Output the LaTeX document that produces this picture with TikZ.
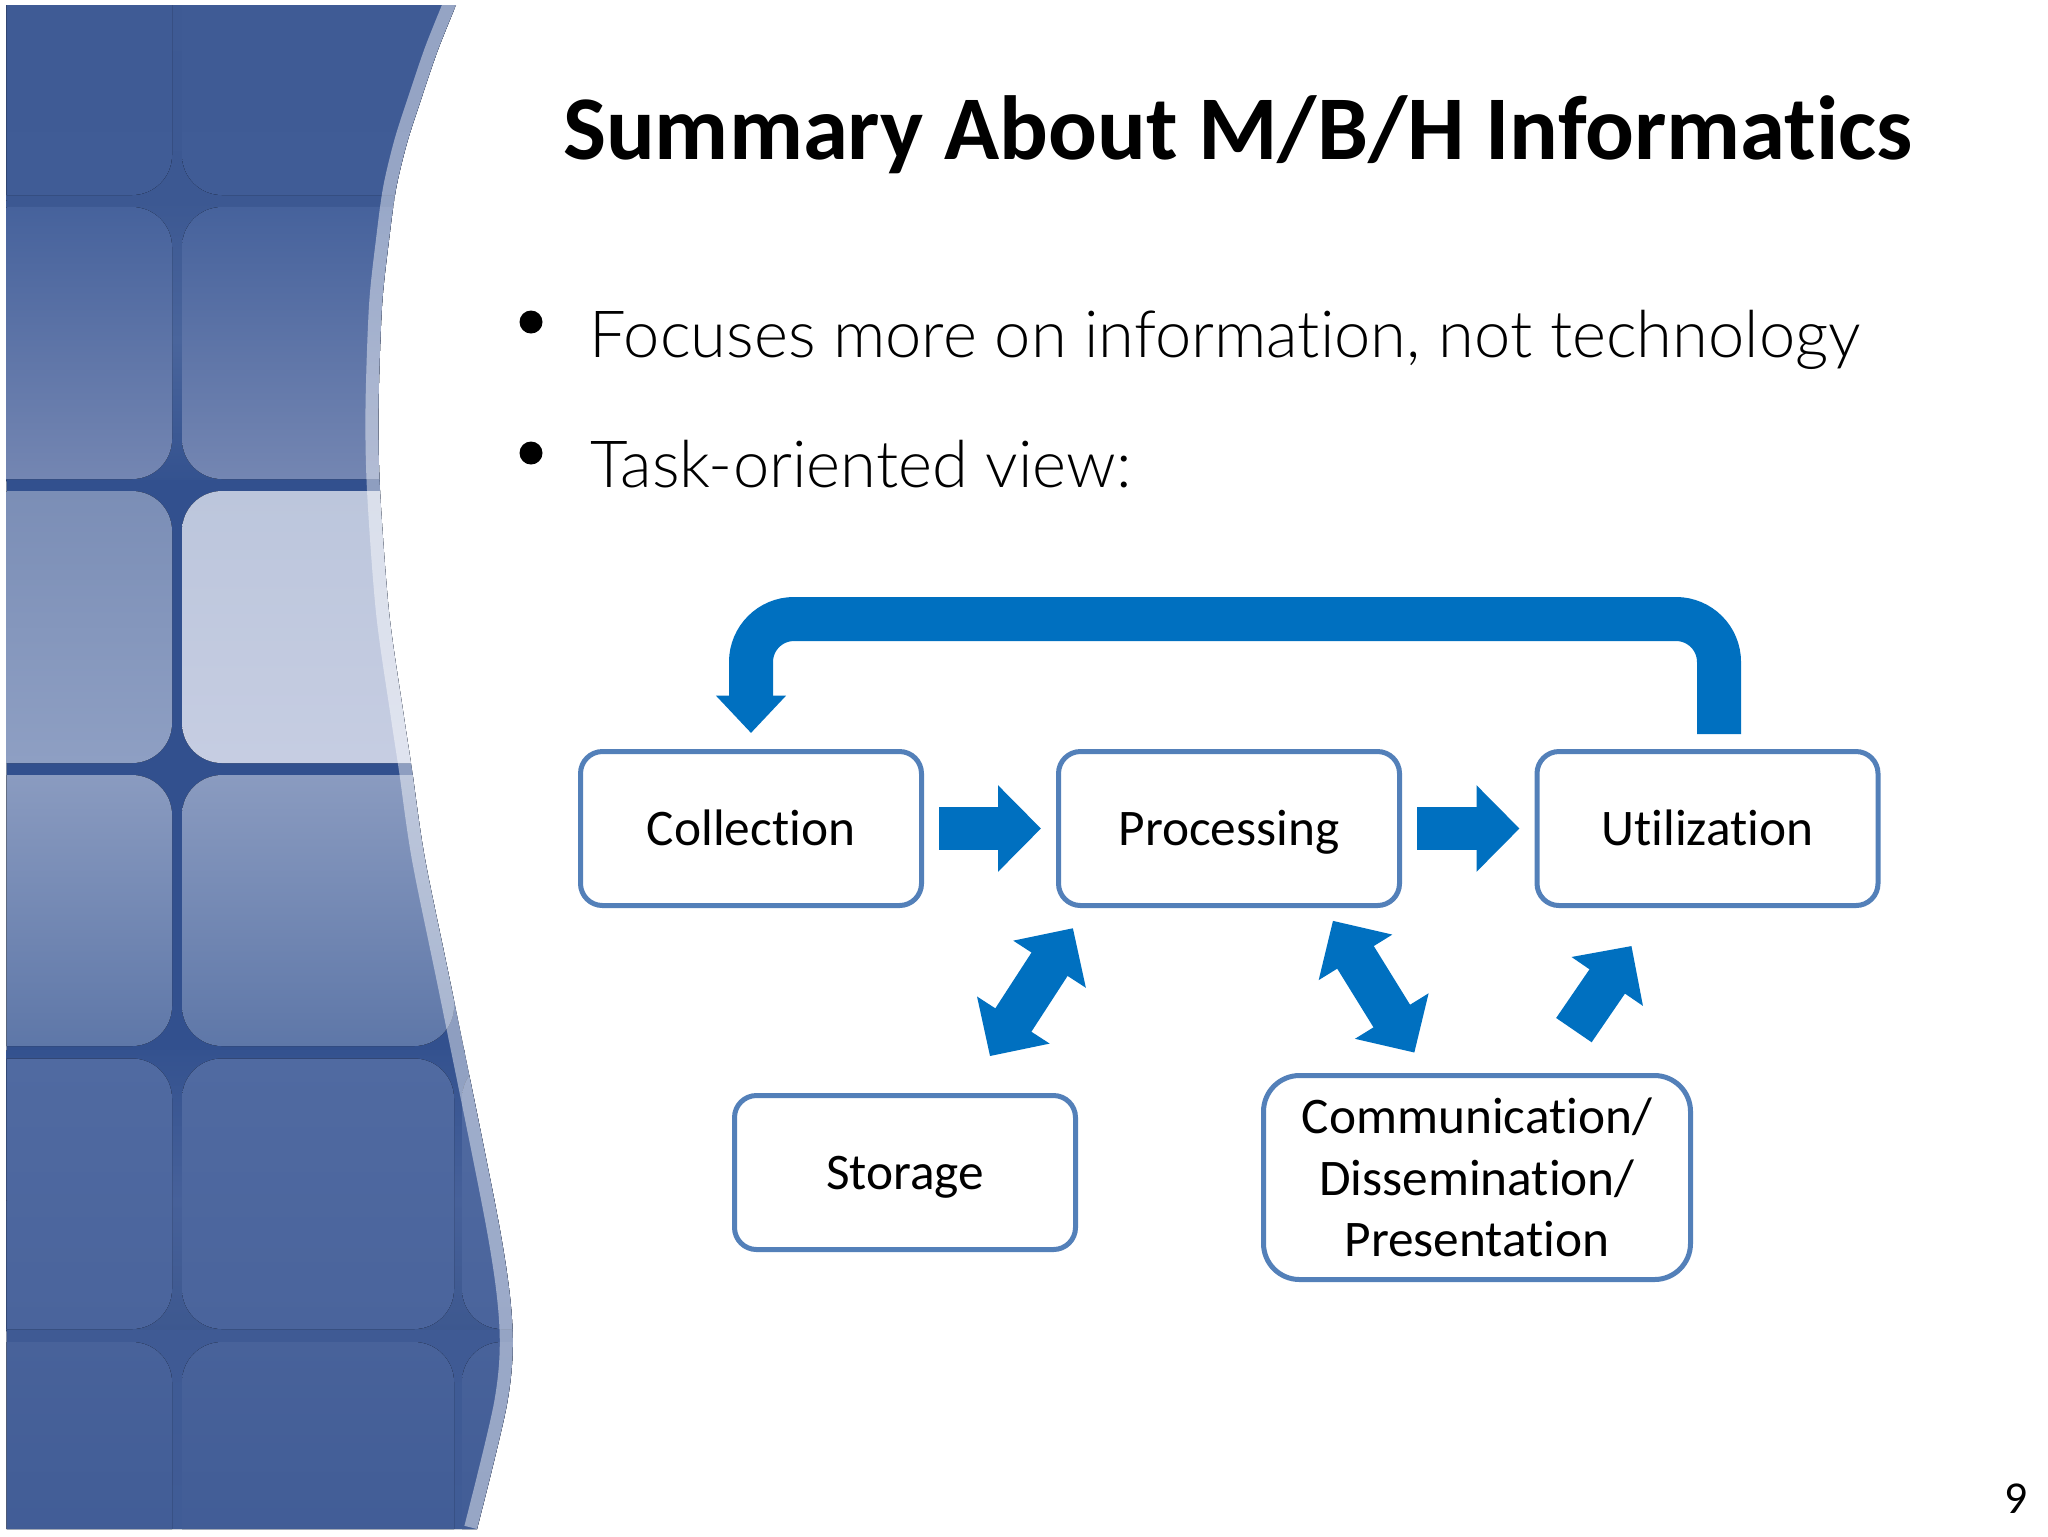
\documentclass[tikz,border=0pt]{standalone}
\usepackage{fontspec}
\usetikzlibrary{arrows.meta,positioning}
\setmainfont{Carlito}[Ligatures=CommonOff]
\newfontfamily\lightfont{Lato Light}[Ligatures=CommonOff]
\definecolor{flowblue}{HTML}{0070C0}
\definecolor{boxblue}{HTML}{5380B9}
\tikzset{
    taskbox/.style={draw=boxblue, line width=0.5mm, fill=white, rounded corners=2.2mm,
        minimum width=34.1mm, minimum height=15.4mm, inner sep=0pt,
        font=\fontsize{14.6}{17.5}\selectfont, text=black},
    oneline/.style={text height=4.3mm, text depth=1mm},
    flowarrow/.style={draw=flowblue, line width=4.3mm,
        -{Triangle[length=4.3mm,width=8.4mm]}, shorten <=1.5mm, shorten >=1.5mm},
    bothways/.style={draw=flowblue, line width=4.3mm,
        {Triangle[length=4.3mm,width=8.4mm]}-{Triangle[length=4.3mm,width=8.4mm]}},
    bullettext/.style={anchor=base west, inner sep=0pt, font=\lightfont\fontsize{18.5}{20}\selectfont, text=black},
    bulletdot/.style={circle, fill=black, minimum size=2.3mm, inner sep=0pt}
}
\newcommand{\panelcurve}[1]{% path start
    #1 plot [smooth, tension=0.5] coordinates {(456,5) (437.5,51) (421,99.5) (407,143) (396,189) (389,240) (382,306) (378.5,408) (380,490) (389,612) (403.5,714) (412,770) (425,859) (453.5,998) (500,1230) (512.5,1329) (507,1404) (477,1529)}
}
\newcommand{\panelcell}[6]{% x1, y1, x2, y2, top, bottom
    \definecolor{celltop}{HTML}{#5}
    \definecolor{cellbot}{HTML}{#6}
    \fill[rounded corners=4mm, top color=celltop, bottom color=cellbot] (#1,#2) rectangle (#3,#4)
}
\newcommand{\gutterband}[4]{% y1, y2, top, bottom
    \definecolor{celltop}{HTML}{#3}
    \definecolor{cellbot}{HTML}{#4}
    \fill[top color=celltop, bottom color=cellbot] (0,#1) rectangle (600,#2)
}

\begin{document}
\begin{tikzpicture}[x=0.1mm, y=-0.1mm]
        \useasboundingbox (0,0) rectangle (2048,1536);
        \fill[white] (0,0) rectangle (2048,1536);
        \begin{scope}
            \panelcurve{\clip (6.5,5) --} -- (6.5,1529) -- cycle;
            \foreach \ytop/\ybot/\ctop/\cbot in {0/201/3E5A94/3C5892, 200/341/3C5892/4A659C, 340/481/4A659C/34528F,
                480/1051/32508E/32508E, 1050/1201/34528F/47619A, 1200/1331/47619A/3D588F, 1330/1536/3F5A94/405C96} {
                \gutterband{\ytop}{\ybot}{\ctop}{\cbot};
            }
            \foreach \colx/\colw in {-60/172, 182/454, 462/700} {
                \panelcell{\colx}{-60}{\colw}{195}{3E5A94}{405C96};
                \panelcell{\colx}{1342}{\colw}{1600}{48629A}{3F5B95};
                \panelcell{\colx}{1058.5}{\colw}{1329}{506AA1}{4A649C};
                \panelcell{\colx}{775}{\colw}{1046}{8A9BC0}{5E77A8};
            }
            \foreach \colx/\colw in {-60/172, 182/454} {
                \panelcell{\colx}{207}{\colw}{479}{46629C}{7486B2};
            }
            \panelcell{-60}{491}{172}{763}{7B8EB6}{8E9FC3};
            \panelcell{182}{491}{700}{763}{BCC6DC}{C6CDE2};
            \panelcurve{\draw[white, opacity=0.45, line width=2.6mm]};
        \end{scope}
        \node[anchor=base, font=\bfseries\fontsize{25.9}{28}\selectfont] (title) at (1238,159) {Summary About M/B/H Informatics};
        \node[bulletdot] (dotone) at (531,322) {};
        \node[bullettext] (textone) at (589,357) {Focuses more on information, not technology};
        \node[bulletdot] (dottwo) at (531,453) {};
        \node[bullettext] (texttwo) at (590,487) {Task-oriented view:};
        \node[taskbox, oneline] (coll) at (751,828.5) {Collection};
        \node[taskbox, oneline] (proc) at (1229,828.5) {Processing};
        \node[taskbox, oneline] (util) at (1707.5,828.5) {Utilization};
        \node[taskbox, oneline] (stor) at (905,1172.5) {Storage};
        \node[taskbox, align=center, rounded corners=3.6mm, minimum width=42.7mm, minimum height=20.4mm] (comm) at (1477,1177.5) {Communication/\\Dissemination/\\Presentation};
        \node[anchor=base, font=\fontsize{13}{15}\selectfont] (page) at (2016,1513) {9};
        \coordinate (looptop) at (1200,619);
        \draw[flowarrow] (coll) -- (proc);
        \draw[flowarrow] (proc) -- (util);
        \draw[draw=flowblue, line width=4.4mm, rounded corners=4.3mm,
            -{Triangle[length=3.75mm,width=6.8mm]}, shorten <=1.5mm, shorten >=1.6mm]
            ([xshift=1.15mm]util.north) |- (looptop) -| (coll.north);
        \draw[bothways, shorten <=4.4mm, shorten >=2.4mm] ([xshift=6.1mm]stor.north) -- ([xshift=-14.3mm]proc.south);
        \draw[bothways, shorten <=1.5mm, shorten >=2.4mm] ([xshift=9.6mm]proc.south) -- ([xshift=-5mm]comm.north);
        \draw[flowarrow, shorten <=5.2mm, shorten >=4.6mm] ([xshift=6.75mm]comm.north) -- ([xshift=-5mm]util.south);
    \end{tikzpicture}
\end{document}
